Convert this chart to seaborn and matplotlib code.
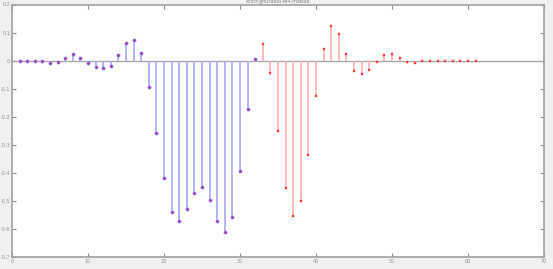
import matplotlib
matplotlib.use("Agg")
import matplotlib.pyplot as plt
import seaborn as sns
import numpy as np
import pandas as pd

title = "xcorr-gnuradio,fe4-matlab"

# lags 1..61
lags = list(range(1, 62))
# full cross-correlation (red series)
xcorr_values = [0.0, 0.0, 0.0, 0.0, -0.010, -0.005, 0.010, 0.022, 0.008, -0.008,
                -0.023, -0.026, -0.018, 0.021, 0.063, 0.075, 0.026, -0.094, -0.259, -0.420,
                -0.541, -0.571, -0.530, -0.471, -0.452, -0.496, -0.572, -0.612, -0.556, -0.392,
                -0.174, 0.006, 0.058, -0.045, -0.251, -0.453, -0.554, -0.499, -0.335, -0.127,
                0.041, 0.122, 0.096, 0.024, -0.037, -0.047, -0.032, -0.004, 0.020, 0.024,
                0.009, -0.005, -0.010, 0.0, 0.0, 0.0, 0.0, 0.0, 0.0, 0.0, 0.0]
# number of leading points covered by the blue series
n_blue = 32

xticks = [0, 10, 20, 30, 40, 50, 60, 70]
yticks = [0.2, 0.1, 0, -0.1, -0.2, -0.3, -0.4, -0.5, -0.6, -0.7]
ytick_labels = ["0.2", "0.1", "0", "-0.1", "-0.2", "-0.3", "-0.4", "-0.5", "-0.6", "-0.7"]

df = pd.DataFrame({"lag": lags, "value": xcorr_values})
df_blue = df.iloc[:n_blue]
df_red = df.iloc[n_blue:]

sns.set_style("white")
fig = plt.figure(figsize=(5.53, 2.69), dpi=100, facecolor="#f0f0f0")
ax = fig.add_axes([12 / 553, 1 - 257 / 269, 532 / 553, 252.5 / 269])
ax.set_facecolor("white")

# baseline
ax.axhline(0, color="#a8a8a8", lw=1.0, zorder=1)

# stems
ax.vlines(df_red["lag"], 0, df_red["value"], colors="#ffb0b0", lw=1.2, zorder=2)
ax.vlines(df_blue["lag"], 0, df_blue["value"], colors="#a8a8ff", lw=1.2, zorder=2)

# markers
sns.scatterplot(data=df_red, x="lag", y="value", ax=ax, color="#ff3030",
                marker="s", s=2.5, edgecolor="#ff5050", linewidth=0.3, zorder=3)
sns.scatterplot(data=df_blue, x="lag", y="value", ax=ax, color="#c03090",
                marker="o", s=5, edgecolor="#8080ff", linewidth=0.5, zorder=3)

ax.set_xlim(0, 70)
ax.set_ylim(-0.7, 0.2)
ax.set_xticks(xticks)
ax.set_xticklabels([str(t) for t in xticks])
ax.set_yticks(yticks)
ax.set_yticklabels(ytick_labels)
ax.set_xlabel("")
ax.set_ylabel("")

ax.tick_params(axis="both", direction="in", length=3, width=0.8, color="#909090",
               labelsize=3.5, labelcolor="#909090", pad=1.5,
               top=True, right=True, bottom=True, left=True)
for s in ax.spines.values():
    s.set_visible(True)
    s.set_color("#a0a0a0")
    s.set_linewidth(1.2)

ax.set_title(title, fontsize=3.5, color="#808080", pad=1)

fig.savefig("out.png", dpi=100, facecolor=fig.get_facecolor())
